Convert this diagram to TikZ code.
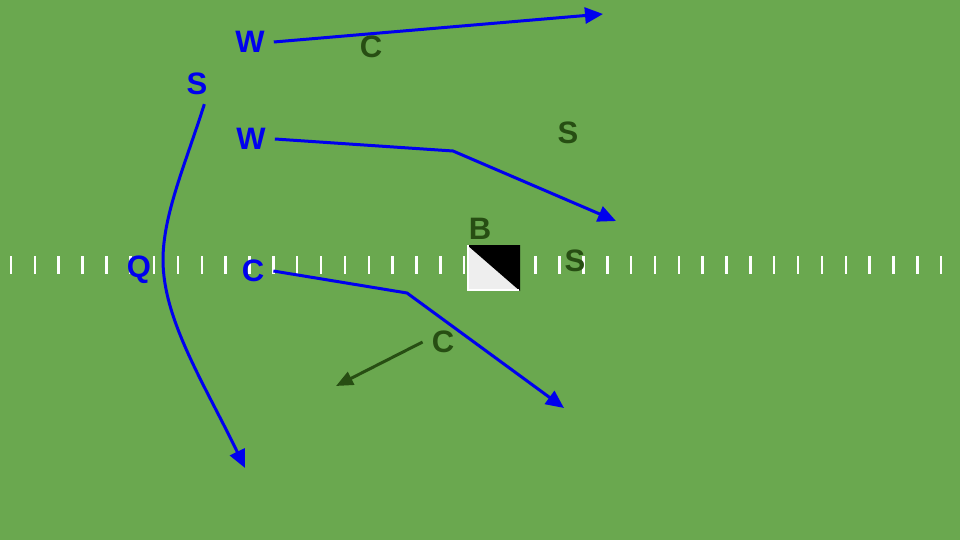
\documentclass[tikz,border=0pt]{standalone}
\usepackage{fontspec}
\setmainfont{Liberation Sans}[BoldFont={Liberation Sans Bold}]
\usetikzlibrary{arrows.meta}

\definecolor{field}{HTML}{6AA84F}
\definecolor{offense}{HTML}{0000EE}
\definecolor{defense}{HTML}{274E13}
\definecolor{ballgray}{HTML}{EEEEEE}

\tikzset{
    player/.style={font=\fontsize{31}{31}\selectfont\bfseries, inner sep=9pt},
    off/.style={player, text=offense},
    def/.style={player, text=defense},
    yardmark/.style={white, line width=2.5pt},
    route/.style={offense, line width=3pt, -{Triangle[length=18pt,width=16pt]}},
    cover/.style={defense, line width=3pt, -{Triangle[length=17pt,width=14pt]}}
}

\begin{document}
\begin{tikzpicture}[x=1pt,y=-1pt]
    \fill[field] (0,0) rectangle (960,540);
    \useasboundingbox (0,0) rectangle (960,540);

    % line of scrimmage
    \foreach \i in {0,...,39}
        \draw[yardmark] ({11+\i*23.85},256) -- ++(0,18);

    % ball
    \fill[ballgray] (467,245) rectangle (520,291);
    \fill[black] (467,245) -- (520,245) -- (520,291) -- cycle;
    \draw[white, line width=2pt] (468,245) -- (468,290) -- (519,290);

    % offense
    \node[off] (w1) at (250,42) {W};
    \node[off] (s1) at (197,84) {S};
    \node[off] (w2) at (251,139) {W};
    \node[off] (q) at (139,270) {Q};
    \node[off] (c1) at (253,271) {C};

    % defense
    \node[def] (dc1) at (371,47) {C};
    \node[def] (ds1) at (568,133) {S};
    \node[def] (db) at (480,229) {B};
    \node[def] (ds2) at (575,261) {S};
    \node[def] (dc2) at (443,342) {C};

    % routes
    \coordinate (w1end) at (603,14);
    \coordinate (s1turn) at (163,260);
    \coordinate (s1end) at (245,468);
    \coordinate (w2bend) at (453,151);
    \coordinate (w2end) at (616,221);
    \coordinate (c1bend) at (407,293);
    \coordinate (c1end) at (564,408);
    \coordinate (dc2end) at (336,386);

    \draw[route] (w1.east) -- (w1end);
    \draw[route] (s1.-70) .. controls (185,165) and (163,215) .. (s1turn)
        .. controls (163,320) and (205,385) .. (s1end);
    \draw[route] (w2.east) -- (w2bend) -- (w2end);
    \draw[route] (c1.east) -- (c1bend) -- (c1end);
    \draw[cover] (dc2.west) -- (dc2end);
\end{tikzpicture}
\end{document}
